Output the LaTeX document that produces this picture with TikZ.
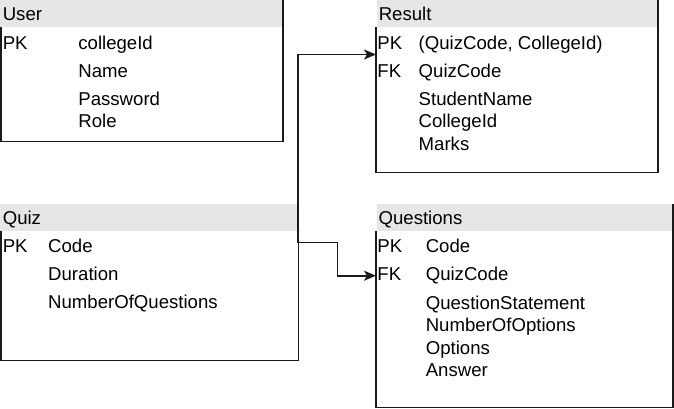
\documentclass[tikz,border=0pt]{standalone}
\usepackage{fontspec}
\setmainfont{Liberation Sans}
\usetikzlibrary{arrows.meta}
\definecolor{headgray}{HTML}{E6E6E6}
\definecolor{linecol}{HTML}{1A1A1A}
\tikzset{
  headbox/.style={fill=headgray, draw=none, inner sep=0, anchor=north west},
  bodybox/.style={draw=none, inner sep=0, anchor=north west},
  border/.style={draw=linecol, line width=1.6pt, line join=miter},
  txt/.style={anchor=base west, inner sep=0, font=\fontsize{18.6}{22}\selectfont, text=black},
  conn/.style={draw=linecol, line width=1.6pt, -{Stealth[length=12pt,width=10pt,inset=3pt]}},
}
\begin{document}
\begin{tikzpicture}[x=1pt,y=-1pt]
\useasboundingbox (0,0) rectangle (674,408);

% ---------- User ----------
\node[headbox, minimum width=281.5pt, minimum height=27pt] (userH) at (0,0) {};
\node[bodybox, minimum width=281.5pt, minimum height=114pt] (userB) at (1,27) {};
\draw[border] (userB.north west) -- (userB.south west) -- (userB.south east) -- (userB.east |- userH.north);
\node[txt] (userT) at (2.6,20.7) {User};
\node[txt] (userPK) at (2.6,49.2) {PK};
\node[txt] (userA1) at (78.2,49.2) {collegeId};
\node[txt] (userA2) at (78.2,77) {Name};
\node[txt] (userA3) at (78.2,105) {Password};
\node[txt] (userA4) at (78.2,127.7) {Role};

% ---------- Result ----------
\node[headbox, minimum width=280pt, minimum height=27pt] (resH) at (376.5,0) {};
\node[bodybox, minimum width=281.5pt, minimum height=145pt] (resB) at (376,27) {};
\draw[border] (resB.north west) -- (resB.south west) -- (resB.south east) -- (resB.east |- resH.north);
\node[txt] (resT) at (378.6,20.7) {Result};
\node[txt] (resPK) at (377.2,49.2) {PK};
\node[txt] (resA1) at (418.5,49.2) {(QuizCode, CollegeId)};
\node[txt] (resFK) at (377.2,77.5) {FK};
\node[txt] (resA2) at (418.5,77.5) {QuizCode};
\node[txt] (resA3) at (418.5,105) {StudentName};
\node[txt] (resA4) at (418.5,127.7) {CollegeId};
\node[txt] (resA5) at (418.5,150) {Marks};

% ---------- Quiz ----------
\node[headbox, minimum width=297pt, minimum height=27.5pt] (quizH) at (0,203.5) {};
\node[bodybox, minimum width=297pt, minimum height=129pt] (quizB) at (1,231) {};
\draw[border] (quizB.north west) -- (quizB.south west) -- (quizB.south east) -- (quizB.east |- quizH.north);
\node[txt] (quizT) at (2.6,224) {Quiz};
\node[txt] (quizPK) at (2.6,252.7) {PK};
\node[txt] (quizA1) at (48,252.7) {Code};
\node[txt] (quizA2) at (48,280.7) {Duration};
\node[txt] (quizA3) at (48,308.3) {NumberOfQuestions};

% ---------- Questions ----------
\node[headbox, minimum width=296pt, minimum height=27.5pt] (qsH) at (376.5,203.5) {};
\node[bodybox, minimum width=296.5pt, minimum height=176pt] (qsB) at (376,231) {};
\draw[border] (qsB.north west) -- (qsB.south west) -- (qsB.south east) -- (qsB.east |- qsH.north);
\node[txt] (qsT) at (378.4,224) {Questions};
\node[txt] (qsPK) at (377.2,252.7) {PK};
\node[txt] (qsA1) at (425.6,252.7) {Code};
\node[txt] (qsFK) at (377.2,280.7) {FK};
\node[txt] (qsA2) at (425.6,280.7) {QuizCode};
\node[txt] (qsA3) at (425.6,309.3) {QuestionStatement};
\node[txt] (qsA4) at (425.6,331.7) {NumberOfOptions};
\node[txt] (qsA5) at (425.6,354) {Options};
\node[txt] (qsA6) at (425.6,376.7) {Answer};

% ---------- Connectors ----------
\coordinate (quizOut) at (298,242.5);
\coordinate (resIn) at (376,54.5);
\coordinate (qsIn) at (376,275.7);
\draw[conn] (quizOut) |- (resIn);
\draw[conn] (quizOut) -- ++(39.5,0) |- (qsIn);
\end{tikzpicture}
\end{document}
